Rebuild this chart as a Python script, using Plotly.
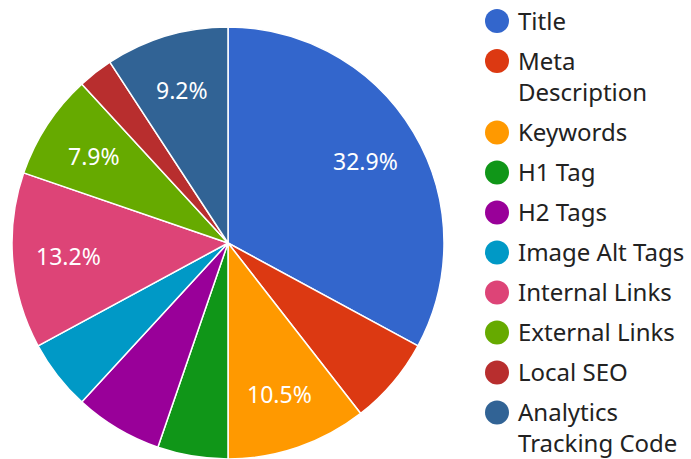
import math
import plotly.graph_objects as go

categories = ["Title", "Meta Description", "Keywords", "H1 Tag", "H2 Tags",
              "Image Alt Tags", "Internal Links", "External Links", "Local SEO",
              "Analytics Tracking Code"]
legend_labels = ["Title", "Meta<br>Description", "Keywords", "H1 Tag", "H2 Tags",
                 "Image Alt Tags", "Internal Links", "External Links", "Local SEO",
                 "Analytics<br>Tracking Code"]
values = [25, 5, 8, 4, 5, 4, 10, 6, 2, 7]
colors = ["#3366cc", "#dc3912", "#ff9900", "#109618", "#990099",
          "#0099c6", "#dd4477", "#66aa00", "#b82e2e", "#316395"]

W, H = 691, 459
FONT = "Noto Sans, Open Sans, sans-serif"
CX, CY, R = 228, 243, 216  # pie centre / radius in pixels

fig = go.Figure()
fig.add_trace(go.Pie(
    labels=categories, values=values, sort=False, direction="clockwise", rotation=0,
    marker=dict(colors=colors, line=dict(color="white", width=1.5)),
    textinfo="none",
    domain=dict(x=[(CX - R) / W, (CX + R) / W], y=[(H - CY - R) / H, (H - CY + R) / H]),
    showlegend=False, hoverinfo="label+percent",
))

# slice percentage labels (only for larger slices), placed along each slice bisector
total = sum(values)
cum = 0
for v in values:
    frac = v / total
    mid = (cum + v / 2) / total * 2 * math.pi
    cum += v
    if frac < 0.075:
        continue
    d = 0.74 * R
    fig.add_annotation(x=CX + d * math.sin(mid), y=CY - d * math.cos(mid),
                       xref="x", yref="y", text=f"{frac * 100:.1f}%", showarrow=False,
                       font=dict(size=23, color="white", family=FONT))

# custom legend with circle markers (pixel-unit hidden axes)
ys = []
y = 21
for lab in legend_labels:
    ys.append(y)
    y += 40 + 31.5 * lab.count("<br>")

fig.add_trace(go.Scatter(
    x=[497] * len(categories), y=ys, mode="markers",
    marker=dict(size=24, color=colors, symbol="circle"),
    showlegend=False, hoverinfo="skip",
))
for lab, yy in zip(legend_labels, ys):
    fig.add_annotation(x=516, y=yy - 19.5, xref="x", yref="y", text=lab, showarrow=False,
                       xanchor="left", yanchor="top", align="left",
                       font=dict(size=24, color="#222222", family=FONT))

fig.update_layout(
    width=W, height=H, margin=dict(l=0, r=0, t=0, b=0),
    paper_bgcolor="white", plot_bgcolor="rgba(0,0,0,0)",
    xaxis=dict(range=[0, W], visible=False, fixedrange=True),
    yaxis=dict(range=[H, 0], visible=False, fixedrange=True),
    font=dict(family=FONT),
)
fig.write_html("out.html", config={"displayModeBar": False},
               post_script="document.body.style.margin='0';")
